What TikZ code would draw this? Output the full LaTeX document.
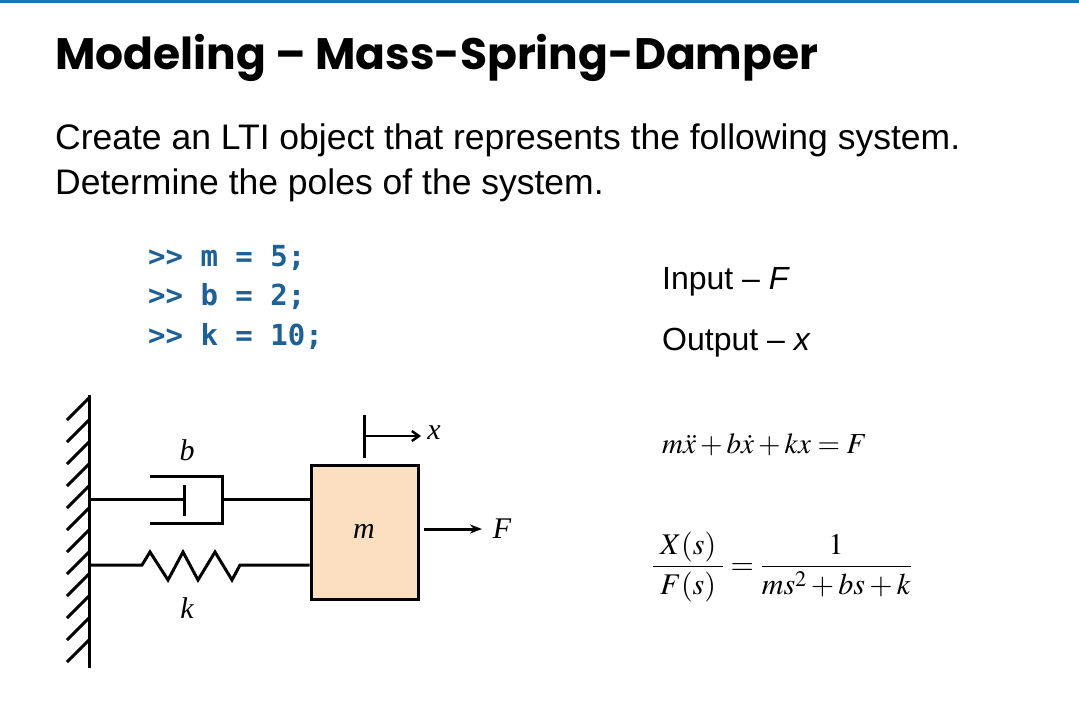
\documentclass[tikz,border=0pt]{standalone}
\usepackage{amsmath}
\usepackage{mathptmx}
\usepackage{fontspec}
\setmainfont{Liberation Sans}
\newfontfamily\titlefont{Poppins}[UprightFont=* Bold]
\newfontfamily\codefont{DejaVu Sans Mono}[UprightFont=* Bold]
\newfontfamily\serifit{Liberation Serif}[UprightFont=* Italic]
\definecolor{topblue}{HTML}{1A75AE}
\definecolor{codeblue}{HTML}{1F6096}
\definecolor{peach}{HTML}{FBDFC0}
\usetikzlibrary{arrows.meta}
\begin{document}
\begin{tikzpicture}[x=1pt,y=-1pt,
  mech/.style={line width=3pt},
  txt/.style={anchor=west,inner sep=0pt},
  code/.style={anchor=west,inner sep=0pt,text=codeblue,font=\fontsize{29}{29}\selectfont\codefont},
  lab/.style={inner sep=0pt,font=\fontsize{30}{30}\selectfont\serifit}]
\useasboundingbox (0,0) rectangle (1079,712);
\fill[white] (0,0) rectangle (1079,712);
\fill[topblue] (0,0) rectangle (1079,3);
\node[txt] (title) at (55,58) {\fontsize{44}{44}\selectfont\titlefont Modeling – Mass-Spring-Damper};
\node[txt] (l1) at (55,140) {\fontsize{35.5}{35.5}\selectfont Create an LTI object that represents the following system.};
\node[txt] (l2) at (55,185) {\fontsize{35.5}{35.5}\selectfont Determine the poles of the system.};
\node[code] (c1) at (148,258) {>> m = 5;};
\node[code] (c2) at (148,297) {>> b = 2;};
\node[code] (c3) at (148,337) {>> k = 10;};
\node[txt] (in) at (662,282) {\fontsize{32}{32}\selectfont Input – \textit{F}};
\node[txt] (out) at (662,343) {\fontsize{32}{32}\selectfont Output – \textit{x}};
\node[txt] (eq) at (662,445) {\fontsize{29}{29}\selectfont $m\ddot{x}+b\dot{x}+kx=F$};
\node[txt] (tf) at (652,567) {\fontsize{30}{30}\selectfont $\dfrac{\;X(s)\;}{F(s)}=\dfrac{\qquad1\qquad}{ms^2+bs+k}$};
% wall
\draw[mech] (89,395) coordinate (w1) -- (89,668) coordinate (w2);
\foreach \y in {398,420,...,660} \draw[mech] (89,\y) -- (67,\y+22);
% damper
\coordinate (wd) at (89,499);
\coordinate (piston) at (184,499);
\draw[mech] (wd) -- (piston);
\draw[mech] (184,485) -- (184,516);
\draw[mech] (150,476) -- (222,476) -- (222,523) -- (150,523);
% mass
\node[draw,mech,fill=peach,minimum width=107pt,minimum height=134pt,inner sep=0pt] (mass) at (364.5,532) {};
\node[lab] (mlab) at (364,531) {m};
\draw[mech] (222,499) -- (mass.west |- 0,499);
% spring
\draw[mech,line join=miter] (89,565) -- (142,565) -- (150,552) -- (168,580) -- (183,552) -- (198,580) -- (215,552) -- (232,580) -- (240,565) -- (mass.west |- 0,565);
% labels
\node[lab] (blab) at (187,450) {b};
\node[lab] (klab) at (187,608) {k};
% x marker
\draw[mech] (364,415) -- (364,458);
\coordinate (xs) at (364,436);
\coordinate (xe) at (421,436);
\draw[line width=2.5pt,-{Straight Barb[length=7pt,width=10pt]}] (xs) -- (xe);
\node[lab] (xlab) at (434,433) {x};
% F arrow
\coordinate (fs) at (424,529);
\coordinate (fe) at (482,529);
\draw[line width=3pt,-{Stealth[length=12pt,width=9pt]}] (fs) -- (fe);
\node[lab] (flab) at (502,529) {F};
\end{tikzpicture}
\end{document}
